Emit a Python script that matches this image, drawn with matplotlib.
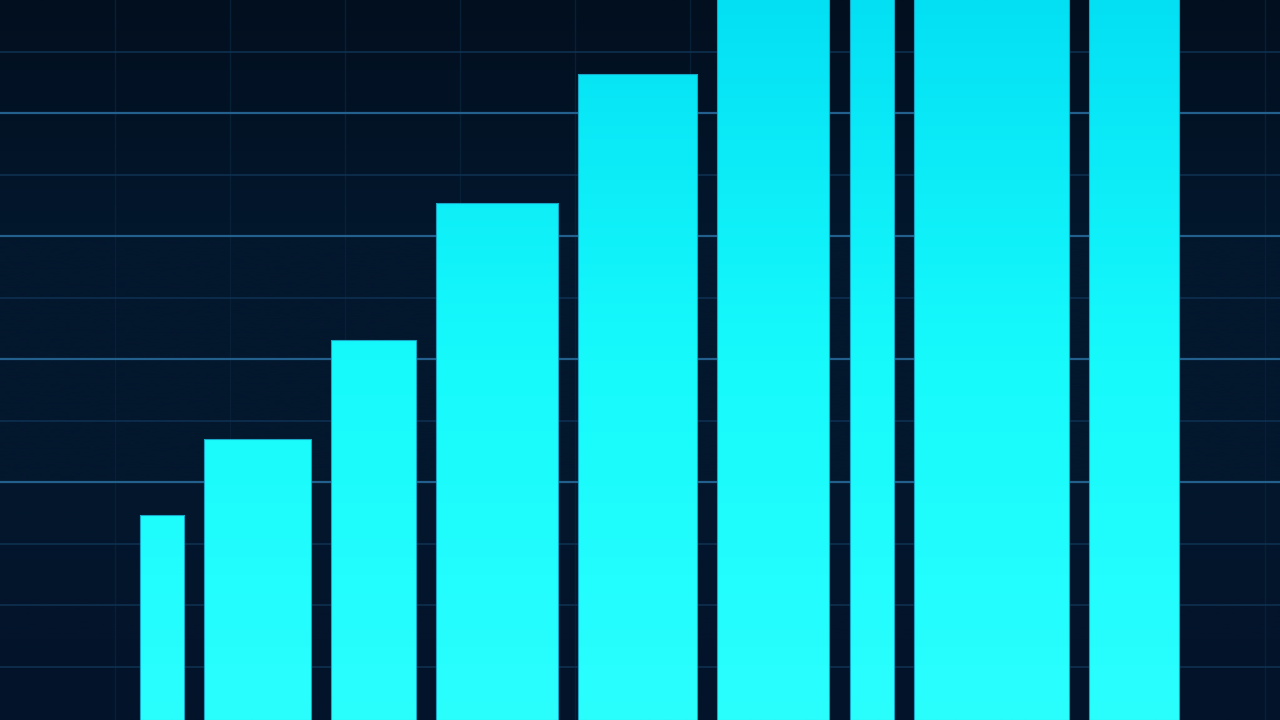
import numpy as np
import matplotlib
matplotlib.use("Agg")
import matplotlib.pyplot as plt
from matplotlib.colors import LinearSegmentedColormap

# ---- data (x in grid-column units, y in grid-row units) ----
bar_left = [1.217, 1.774, 2.878, 3.791, 5.026, 6.235, 7.391, 7.948, 9.470]
bar_width = [0.383, 0.930, 0.739, 1.061, 1.035, 0.974, 0.383, 1.348, 0.783]
bar_height = [3.33, 4.57, 6.18, 8.41, 10.50, 13.0, 13.5, 14.0, 14.5]

x_max = 11.13
y_max = 11.707
grid_offset = 0.865

fig = plt.figure(figsize=(12.8, 7.2), dpi=100)
ax = fig.add_axes([0, 0, 1, 1])
ax.set_xlim(0, x_max)
ax.set_ylim(0, y_max)
ax.set_facecolor("#03152a")

# background gradient
bg_cmap = LinearSegmentedColormap.from_list(
    "bg", ["#03132a", "#03172d", "#03172d", "#020f1f"])
bg = np.linspace(0, 1, 256).reshape(-1, 1)
ax.imshow(bg, extent=[0, x_max, 0, y_max], origin="lower", aspect="auto",
          cmap=bg_cmap, zorder=0)

# grid
minor_y = np.arange(grid_offset, y_max, 1.0)
major_y = np.arange(grid_offset + 3, y_max - 1, 2.0)
ax.set_yticks(major_y)
ax.set_yticks([v for v in minor_y if not np.any(np.isclose(v, major_y))], minor=True)
ax.set_xticks(np.arange(1, x_max, 1.0))
ax.grid(which="major", axis="y", color="#24608e", lw=1.6, zorder=1)
ax.grid(which="minor", axis="y", color="#0e3050", lw=1.2, zorder=1)
ax.grid(which="major", axis="x", color="#082036", lw=1.0, zorder=1)
ax.tick_params(which="both", length=0, labelbottom=False, labelleft=False)
for s in ax.spines.values():
    s.set_visible(False)

# bars with vertical cyan gradient
bars = ax.bar(bar_left, bar_height, width=bar_width, align="edge", bottom=0,
              facecolor="none", edgecolor="#18a6c4", lw=0.8, zorder=3)
bar_cmap = LinearSegmentedColormap.from_list(
    "bar", ["#2afffe", "#16fafc", "#03e0f4"])
grad = np.linspace(0, 1, 256).reshape(-1, 1)
for b in bars:
    im = ax.imshow(grad, extent=[0, x_max, 0, y_max], origin="lower",
                   aspect="auto", cmap=bar_cmap, zorder=2)
    im.set_clip_path(b)

ax.set_xlim(0, x_max)
ax.set_ylim(0, y_max)
fig.savefig("out.png", dpi=100, facecolor="#03152a")
